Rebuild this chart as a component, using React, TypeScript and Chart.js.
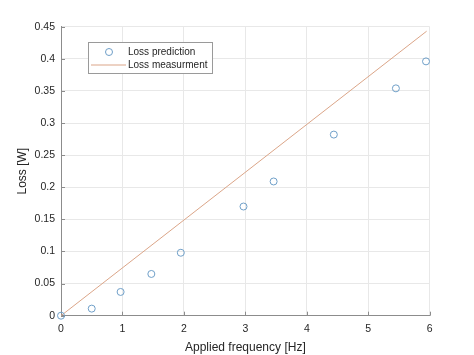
import React, { useEffect, useRef } from "react";
import { Chart, registerables } from "chart.js";

Chart.register(...registerables);

const predFreq = [0, 0.5, 0.97, 1.47, 1.95, 2.97, 3.46, 4.44, 5.45, 5.94];
const predLoss = [0, 0.011, 0.037, 0.065, 0.098, 0.17, 0.209, 0.282, 0.354, 0.396];
const measFreq = [0, 5.95];
const measLoss = [0, 0.443];
const yTicks = [0, 0.05, 0.1, 0.15, 0.2, 0.25, 0.3, 0.35, 0.4, 0.45];
const xTicks = [0, 1, 2, 3, 4, 5, 6];
const seriesNames = ["Loss prediction", "Loss measurment"];
const xTitle = "Applied frequency [Hz]";
const yTitle = "Loss [W]";

const FONT = "'Liberation Sans', Arial, sans-serif";
const BLUE = "#6f9fc8";
const ORANGE = "#dba588";
const AXIS = "#8c8c8c";
const TEXT = "#262626";
const GRID = "#e8e8e8";

const inwardTicks = {
  id: "inwardTicks",
  beforeDatasetsDraw(chart: any) {
    const { ctx, chartArea, scales } = chart;
    ctx.save();
    ctx.strokeStyle = AXIS;
    ctx.lineWidth = 1;
    ctx.beginPath();
    for (const v of xTicks) {
      const x = Math.round(scales.x.getPixelForValue(v)) + 0.5;
      ctx.moveTo(x, chartArea.bottom);
      ctx.lineTo(x, chartArea.bottom - 4);
    }
    for (const v of yTicks) {
      const y = Math.round(scales.y.getPixelForValue(v)) + 0.5;
      ctx.moveTo(chartArea.left, y);
      ctx.lineTo(chartArea.left + 4, y);
    }
    ctx.stroke();
    ctx.restore();
  },
};

const boxLegend = {
  id: "boxLegend",
  afterDraw(chart: any) {
    const { ctx } = chart;
    const left = 88.5;
    const top = 42.5;
    const w = 124;
    const h = 31;
    ctx.save();
    ctx.fillStyle = "#ffffff";
    ctx.fillRect(left, top, w, h);
    ctx.strokeStyle = "#9a9a9a";
    ctx.lineWidth = 1;
    ctx.strokeRect(left, top, w, h);
    ctx.strokeStyle = BLUE;
    ctx.beginPath();
    ctx.arc(109, 52, 3.5, 0, Math.PI * 2);
    ctx.stroke();
    ctx.strokeStyle = ORANGE;
    ctx.beginPath();
    ctx.moveTo(91, 65);
    ctx.lineTo(126, 65);
    ctx.stroke();
    ctx.fillStyle = TEXT;
    ctx.font = `10px ${FONT}`;
    ctx.textBaseline = "middle";
    ctx.textAlign = "left";
    ctx.fillText(seriesNames[0], 128, 52);
    ctx.fillText(seriesNames[1], 128, 65);
    ctx.restore();
  },
};

export default function App() {
  const ref = useRef<HTMLCanvasElement | null>(null);
  useEffect(() => {
    if (!ref.current) return;
    const chart = new Chart(ref.current, {
      type: "scatter",
      data: {
        datasets: [
          {
            label: seriesNames[0],
            data: predFreq.map((x, i) => ({ x, y: predLoss[i] })),
            pointStyle: "circle",
            pointRadius: 3.5,
            pointBorderWidth: 1,
            pointBackgroundColor: "rgba(0,0,0,0)",
            pointBorderColor: BLUE,
            showLine: false,
            clip: false,
            order: 1,
          } as any,
          {
            label: seriesNames[1],
            data: measFreq.map((x, i) => ({ x, y: measLoss[i] })),
            showLine: true,
            borderColor: ORANGE,
            borderWidth: 1,
            pointRadius: 0,
            order: 2,
          } as any,
        ],
      },
      options: {
        responsive: false,
        animation: false,
        devicePixelRatio: 1,
        layout: { padding: { left: 0, top: 26.7, right: 44.3, bottom: 0 } },
        plugins: { legend: { display: false }, tooltip: { enabled: false } },
        scales: {
          x: {
            type: "linear",
            min: 0,
            max: 6,
            afterBuildTicks: (s: any) => {
              s.ticks = xTicks.map((v) => ({ value: v }));
            },
            afterFit: (s: any) => {
              s.height = 39.3;
            },
            grid: { color: GRID, drawTicks: false },
            border: { color: AXIS, width: 1 },
            ticks: {
              padding: 7,
              color: TEXT,
              font: { family: FONT, size: 10.5 },
              callback: (v: any) => String(v),
            },
            title: {
              display: true,
              text: xTitle,
              color: TEXT,
              font: { family: FONT, size: 12 },
              padding: { top: 6, bottom: 0 },
            },
          },
          y: {
            type: "linear",
            min: 0,
            max: 0.45,
            afterBuildTicks: (s: any) => {
              s.ticks = yTicks.map((v) => ({ value: v }));
            },
            afterFit: (s: any) => {
              s.width = 61;
            },
            grid: { color: GRID, drawTicks: false },
            border: { color: AXIS, width: 1 },
            ticks: {
              padding: 6,
              color: TEXT,
              font: { family: FONT, size: 10.5 },
              callback: (v: any) => String(Number(Number(v).toFixed(2))),
            },
            title: {
              display: true,
              text: yTitle,
              color: TEXT,
              font: { family: FONT, size: 12 },
              padding: { top: 15, bottom: 0 },
            },
          },
        },
      },
      plugins: [inwardTicks, boxLegend],
    });
    return () => chart.destroy();
  }, []);
  return (
    <div style={{ position: "absolute", left: 0, top: 0, width: 474, height: 355, background: "#fff" }}>
      <canvas ref={ref} width={474} height={355} />
    </div>
  );
}
